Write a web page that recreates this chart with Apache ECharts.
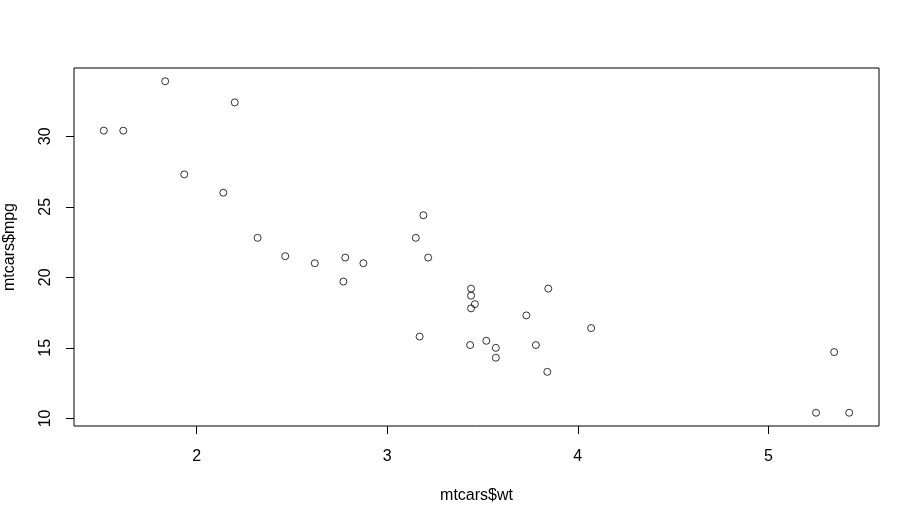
<!DOCTYPE html>
<html>
<head>
<meta charset="utf-8">
<script src="https://cdn.jsdelivr.net/npm/echarts@6/dist/echarts.min.js"></script>
<style>
html,body{margin:0;padding:0;background:#fff;}
#chart{width:910px;height:508px;}
</style>
</head>
<body>
<div id="chart"></div>
<script>
var wt  = [2.620, 2.875, 2.320, 3.215, 3.440, 3.460, 3.570, 3.190, 3.150, 3.440, 3.440, 4.070, 3.730, 3.780, 5.250, 5.424, 5.345, 2.200, 1.615, 1.835, 2.465, 3.520, 3.435, 3.840, 3.845, 1.935, 2.140, 1.513, 3.170, 2.770, 3.570, 2.780];
var mpg = [21.0, 21.0, 22.8, 21.4, 18.7, 18.1, 14.3, 24.4, 22.8, 19.2, 17.8, 16.4, 17.3, 15.2, 10.4, 10.4, 14.7, 32.4, 30.4, 33.9, 21.5, 15.5, 15.2, 13.3, 19.2, 27.3, 26.0, 30.4, 15.8, 19.7, 15.0, 21.4];
var xTicks = [2, 3, 4, 5];
var yTicks = [10, 15, 20, 25, 30];
var xTitle = 'mtcars$wt';
var yTitle = 'mtcars$mpg';

function extRange(arr) {
  var lo = Math.min.apply(null, arr), hi = Math.max.apply(null, arr);
  var d = (hi - lo) * 0.04;
  return [lo - d, hi + d];
}
var xr = extRange(wt), yr = extRange(mpg);
var pts = wt.map(function (w, i) { return [w, mpg[i]]; });

var font = 'Arial, "Liberation Sans", sans-serif';
var chart = echarts.init(document.getElementById('chart'));
chart.setOption({
  animation: false,
  backgroundColor: '#fff',
  grid: {
    left: 74, right: 31, top: 68, bottom: 82,
    show: true, borderColor: '#000', borderWidth: 1,
    containLabel: false, outerBoundsMode: 'none'
  },
  xAxis: {
    type: 'value', min: xr[0], max: xr[1],
    name: xTitle, nameLocation: 'middle', nameGap: 62,
    nameTextStyle: { color: '#000', fontSize: 16, fontFamily: font },
    axisLine: { show: false },
    axisTick: { show: true, length: 8, inside: false, customValues: xTicks, lineStyle: { color: '#000', width: 1 } },
    axisLabel: { customValues: xTicks, color: '#000', fontSize: 16, fontFamily: font, margin: 23 },
    splitLine: { show: false }
  },
  yAxis: {
    type: 'value', min: yr[0], max: yr[1],
    name: yTitle, nameLocation: 'middle', nameGap: 56,
    nameTextStyle: { color: '#000', fontSize: 16, fontFamily: font },
    axisLine: { show: false },
    axisTick: { show: true, length: 8, inside: false, customValues: yTicks, lineStyle: { color: '#000', width: 1 } },
    axisLabel: { customValues: yTicks, color: '#000', fontSize: 16, fontFamily: font, margin: 20, rotate: 90 },
    splitLine: { show: false }
  },
  series: [{
    type: 'scatter',
    data: pts,
    symbol: 'circle',
    symbolSize: 7,
    itemStyle: { color: 'rgba(255,255,255,0)', borderColor: '#000', borderWidth: 1 },
    emphasis: { disabled: true }
  }]
});
</script>
</body>
</html>
